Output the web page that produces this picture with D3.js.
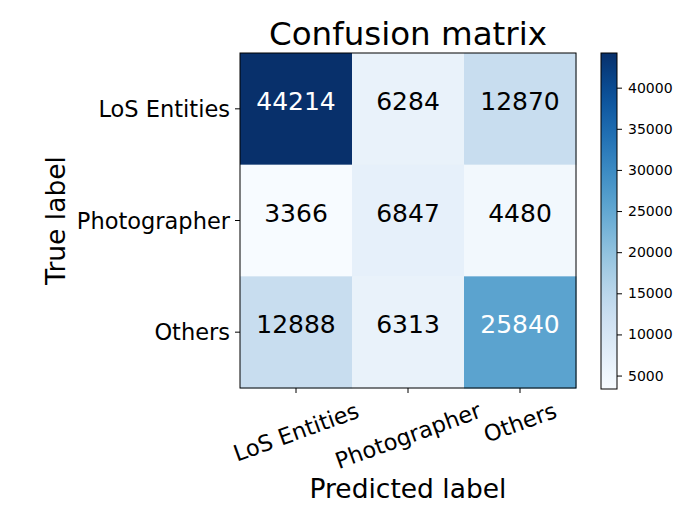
<!DOCTYPE html>
<html>
<head>
<meta charset="utf-8">
<script src="https://cdn.jsdelivr.net/npm/d3@7"></script>
<style>
  body { margin: 0; background: #fff; }
  svg { font-family: "DejaVu Sans", sans-serif; }
</style>
</head>
<body>
<svg id="chart" width="693" height="522"></svg>
<script>
const width = 693;
const height = 522;

// confusion matrix data
const classes = ["LoS Entities", "Photographer", "Others"];
const matrix = [
    [44214, 6284, 12870],
    [3366, 6847, 4480],
    [12888, 6313, 25840]
];
const cbarTicks = [5000, 10000, 15000, 20000, 25000, 30000, 35000, 40000];

const svg = d3.select("#chart");

const box = { left: 240, right: 576, top: 53, bottom: 388 };
const cbar = { left: 601, right: 617, top: 53, bottom: 389 };

const allValues = matrix.flat();
const vmin = d3.min(allValues);
const vmax = d3.max(allValues);
const color = d3.scaleSequential(d3.interpolateBlues).domain([vmin, vmax]);

const x = d3.scaleBand().domain(d3.range(classes.length)).range([box.left, box.right]);
const y = d3.scaleBand().domain(d3.range(classes.length)).range([box.top, box.bottom]);

// cells
const cells = matrix.flatMap((row, i) => row.map((v, j) => ({ i, j, v })));
svg.append("g")
    .selectAll("rect")
    .data(cells)
    .join("rect")
    .attr("x", d => x(d.j))
    .attr("y", d => y(d.i))
    .attr("width", x.bandwidth() + 0.5)
    .attr("height", y.bandwidth() + 0.5)
    .attr("fill", d => color(d.v));

// cell numbers, white on dark cells (same threshold as matplotlib example)
const thresh = vmax / 2;
svg.append("g")
    .selectAll("text")
    .data(cells)
    .join("text")
    .attr("x", d => x(d.j) + x.bandwidth() / 2)
    .attr("y", d => y(d.i) + y.bandwidth() / 2 + 1)
    .attr("text-anchor", "middle")
    .attr("font-size", "25px")
    .attr("fill", d => d.v > thresh ? "#fff" : "#000")
    .text(d => d.v);

// frame
svg.append("rect")
    .attr("x", box.left).attr("y", box.top)
    .attr("width", box.right - box.left).attr("height", box.bottom - box.top)
    .attr("fill", "none").attr("stroke", "#000").attr("stroke-width", 1);

// y ticks
const yt = svg.append("g");
classes.forEach((c, i) => {
    const cy = y(i) + y.bandwidth() / 2;
    yt.append("line")
        .attr("x1", box.left - 5).attr("x2", box.left)
        .attr("y1", cy).attr("y2", cy)
        .attr("stroke", "#000");
    yt.append("text")
        .attr("x", box.left - 10).attr("y", cy)
        .attr("dy", "0.36em")
        .attr("text-anchor", "end")
        .attr("font-size", "22.5px")
        .text(c);
});

// x ticks, rotated 20 deg, centred like matplotlib (bbox top under the tick)
const xt = svg.append("g");
const angle = 20 * Math.PI / 180;
classes.forEach((c, j) => {
    const cx = x(j) + x.bandwidth() / 2;
    xt.append("line")
        .attr("x1", cx).attr("x2", cx)
        .attr("y1", box.bottom).attr("y2", box.bottom + 5)
        .attr("stroke", "#000");
    const t = xt.append("text")
        .attr("text-anchor", "middle")
        .attr("font-size", "22.5px")
        .text(c);
    const w = t.node().getComputedTextLength();
    const h = 22.5 * 1.16;
    const bh = w * Math.sin(angle) + h * Math.cos(angle);
    const cy = box.bottom + 9 + bh / 2;
    t.attr("dy", "0.36em")
        .attr("transform", `translate(${cx},${cy}) rotate(-20)`);
});

// title and axis labels
svg.append("text")
    .attr("x", (box.left + box.right) / 2).attr("y", 45)
    .attr("text-anchor", "middle")
    .attr("font-size", "32.5px")
    .text("Confusion matrix");

svg.append("text")
    .attr("x", (box.left + box.right) / 2).attr("y", 498)
    .attr("text-anchor", "middle")
    .attr("font-size", "26.5px")
    .text("Predicted label");

svg.append("text")
    .attr("transform", `translate(65,${(box.top + box.bottom) / 2}) rotate(-90)`)
    .attr("text-anchor", "middle")
    .attr("font-size", "26.5px")
    .text("True label");

// colorbar
const defs = svg.append("defs");
const grad = defs.append("linearGradient")
    .attr("id", "cbarGrad")
    .attr("x1", "0").attr("y1", "1").attr("x2", "0").attr("y2", "0");
d3.range(0, 1.0001, 0.05).forEach(s => {
    grad.append("stop")
        .attr("offset", s)
        .attr("stop-color", d3.interpolateBlues(s));
});

svg.append("rect")
    .attr("x", cbar.left).attr("y", cbar.top)
    .attr("width", cbar.right - cbar.left).attr("height", cbar.bottom - cbar.top)
    .attr("fill", "url(#cbarGrad)")
    .attr("stroke", "#000").attr("stroke-width", 1);

const cy = d3.scaleLinear().domain([vmin, vmax]).range([cbar.bottom, cbar.top]);
const cAxis = d3.axisRight(cy)
    .tickValues(cbarTicks)
    .tickSize(5)
    .tickPadding(6)
    .tickFormat(d3.format("d"));

svg.append("g")
    .attr("transform", `translate(${cbar.right},0)`)
    .call(cAxis)
    .call(g => g.select(".domain").remove())
    .call(g => g.selectAll("text")
        .attr("font-size", "14px")
        .attr("font-family", "DejaVu Sans")
        .attr("fill", "#000"))
    .call(g => g.selectAll("line").attr("stroke", "#000"));
</script>
</body>
</html>
